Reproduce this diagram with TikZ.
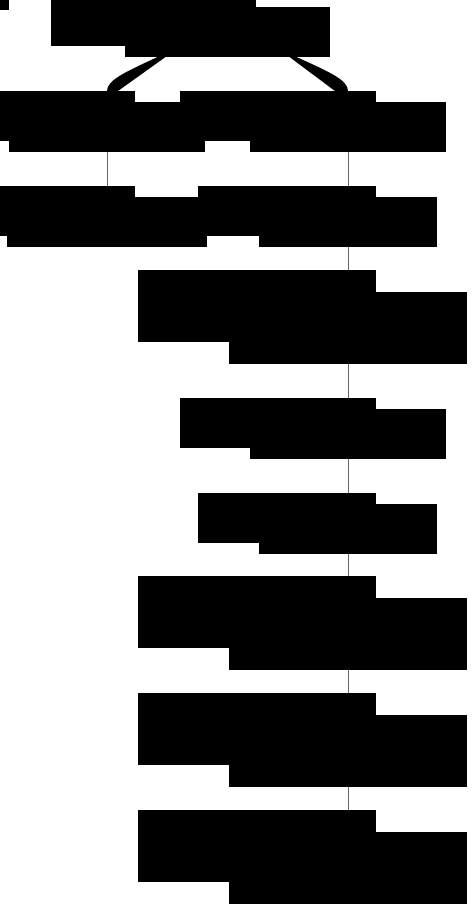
\documentclass[tikz,border=0pt]{standalone}
\usetikzlibrary{positioning,calc}

\begin{document}
\begin{tikzpicture}[x=1pt,y=-1pt,
    box/.style={fill=black,inner sep=0pt,outer sep=0pt,minimum height=50pt},
    tallbox/.style={box,minimum height=72pt},
    link/.style={draw=black!60,line width=0.9pt}]
  \useasboundingbox (0,0) rectangle (474,911);
  \clip (0,0) rectangle (474,911);

  \node (corner) at (4,5) [fill=black,inner sep=0pt,minimum width=9pt,minimum height=10pt]{};

  % root
  \node (broot) at (153,21) [box,minimum width=205pt]{};
  \node (root) at (227.5,32) [box,minimum width=205pt]{};

  % left branch
  \node (bl1) at (37,116) [box,minimum width=196pt]{};
  \node (l1) at (107,127) [box,minimum width=196pt]{};
  \node (bl2) at (35,211) [box,minimum width=200pt]{};
  \node (l2) at (107,222) [box,minimum width=200pt]{};

  % right branch
  \node (br1) at (278,116) [box,minimum width=196pt]{};
  \node (r1) at (348,127) [box,minimum width=196pt]{};
  \node (br2) at (287,211) [box,minimum width=178pt]{};
  \node (r2) at (348,222) [box,minimum width=178pt]{};
  \node (br3) at (257,306) [tallbox,minimum width=238pt]{};
  \node (r3) at (348,328) [tallbox,minimum width=238pt]{};
  \node (br4) at (278,423) [box,minimum width=196pt]{};
  \node (r4) at (348,434) [box,minimum width=196pt]{};
  \node (br5) at (287,518) [box,minimum width=178pt]{};
  \node (r5) at (348,529) [box,minimum width=178pt]{};
  \node (br6) at (257,612) [tallbox,minimum width=238pt]{};
  \node (r6) at (348,634) [tallbox,minimum width=238pt]{};
  \node (br7) at (257,729) [tallbox,minimum width=238pt]{};
  \node (r7) at (348,751) [tallbox,minimum width=238pt]{};
  \node (br8) at (257,846) [tallbox,minimum width=238pt]{};
  \node (r8) at (348,868) [tallbox,minimum width=238pt]{};

  % root to first row
  \fill ($(root.south)+(-70,0)$) .. controls ($(root.south)+(-102,15)$) and ($(l1.center |- bl1.north)+(0,-11)$) .. (l1.center |- bl1.north)
    -- ($(l1.center |- bl1.north)+(11,0)$) -- ($(root.south)+(-62,0)$) -- cycle;
  \fill ($(root.south)+(62,0)$) -- ($(r1.center |- br1.north)+(-13,0)$) -- (r1.center |- br1.north)
    .. controls ($(r1.center |- br1.north)+(0,-11)$) and ($(root.south)+(102,15)$) .. ($(root.south)+(69,0)$) -- cycle;

  \draw[link] (l1.south) -- (l1.south |- bl2.north);
  \draw[link] (r1.south) -- (r1.south |- br2.north);
  \draw[link] (r2.south) -- (r2.south |- br3.north);
  \draw[link] (r3.south) -- (r3.south |- br4.north);
  \draw[link] (r4.south) -- (r4.south |- br5.north);
  \draw[link] (r5.south) -- (r5.south |- br6.north);
  \draw[link] (r6.south) -- (r6.south |- br7.north);
  \draw[link] (r7.south) -- (r7.south |- br8.north);

\end{tikzpicture}
\end{document}
